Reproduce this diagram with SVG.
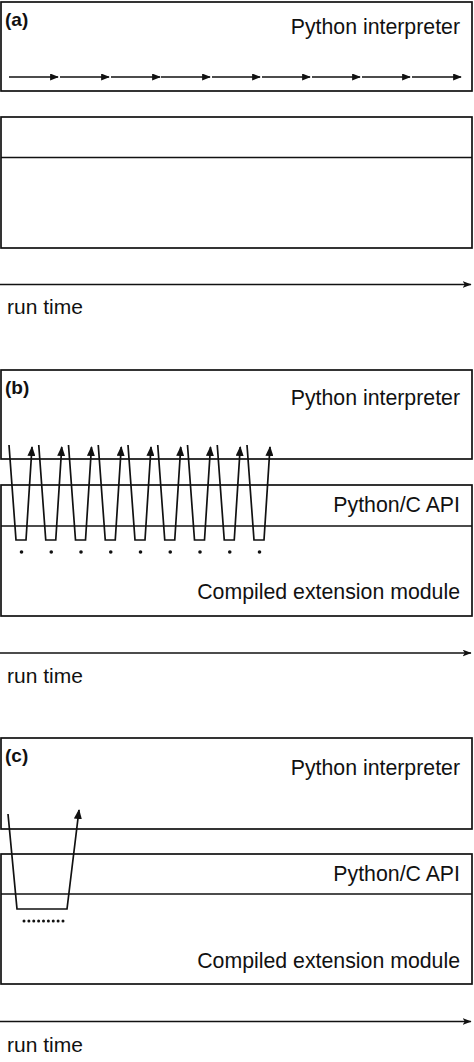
<svg xmlns="http://www.w3.org/2000/svg" width="474" height="1062" viewBox="0 0 474 1062">
<style>
.box{fill:#fff;stroke:#111;stroke-width:1.7}
.sep{stroke:#111;stroke-width:1.7}
.lbl{font-family:"Liberation Sans",Arial,sans-serif;font-size:21.3px;fill:#111;text-anchor:end}
.tag{font-family:"Liberation Sans",Arial,sans-serif;font-size:19px;font-weight:bold;fill:#111}
.rt{font-family:"Liberation Sans",Arial,sans-serif;font-size:21px;fill:#111}
.ar{fill:none;stroke:#111;stroke-width:1.6;marker-end:url(#ah)}
.tl{fill:none;stroke:#111;stroke-width:1.6;marker-end:url(#st)}
.zz{fill:none;stroke:#111;stroke-width:1.7;stroke-linejoin:miter;marker-end:url(#ah2)}
.dot{fill:#111}
</style>
<defs>
<marker id="ah" viewBox="0 0 10 8" refX="9" refY="4" markerWidth="10" markerHeight="7" orient="auto" markerUnits="userSpaceOnUse"><path d="M0,0 L10,4 L0,8 z" fill="#111"/></marker>
<marker id="ah2" viewBox="0 0 10 8" refX="9" refY="4" markerWidth="10" markerHeight="8" orient="auto" markerUnits="userSpaceOnUse"><path d="M0,0 L10,4 L0,8 z" fill="#111"/></marker>
<marker id="st" viewBox="0 0 8 6" refX="7.5" refY="3" markerWidth="9" markerHeight="7" orient="auto" markerUnits="userSpaceOnUse"><path d="M0,0 L8,3 L0,6 L2,3 z" fill="#111"/></marker>
</defs>

<!-- Panel (a) -->
<g id="a-interpreter">
<rect class="box" x="1" y="2" width="471" height="89"/>
<text class="tag" x="5" y="26">(a)</text>
<text class="lbl" x="460" y="34">Python interpreter</text>
</g>
<g id="a-lower">
<rect class="box" x="1" y="117" width="471" height="131"/>
<line class="sep" x1="1" y1="157.5" x2="472" y2="157.5"/>
</g>
<g id="a-runtime">
<text class="rt" x="7" y="314">run time</text>
</g>

<!-- Panel (b) -->
<g id="b-interpreter">
<rect class="box" x="1" y="370" width="471" height="89"/>
<text class="tag" x="5" y="394">(b)</text>
<text class="lbl" x="460" y="405">Python interpreter</text>
</g>
<g id="b-extension">
<rect class="box" x="1" y="485" width="471" height="131"/>
<line class="sep" x1="1" y1="526" x2="472" y2="526"/>
<text class="lbl" x="460" y="512">Python/C API</text>
<text class="lbl" x="460" y="599">Compiled extension module</text>
</g>
<g id="b-runtime">
<text class="rt" x="7" y="683">run time</text>
</g>

<!-- Panel (c) -->
<g id="c-interpreter">
<rect class="box" x="1" y="738" width="471" height="91"/>
<text class="tag" x="5" y="762">(c)</text>
<text class="lbl" x="460" y="775">Python interpreter</text>
</g>
<g id="c-extension">
<rect class="box" x="1" y="854" width="471" height="130"/>
<line class="sep" x1="1" y1="894" x2="472" y2="894"/>
<text class="lbl" x="460" y="881">Python/C API</text>
<text class="lbl" x="460" y="968">Compiled extension module</text>
</g>
<g id="c-runtime">
<text class="rt" x="7" y="1052">run time</text>
</g>

<g id="connectors">
<!-- (a) steps -->
<line class="ar" x1="9" y1="77" x2="58" y2="77"/>
<line class="ar" x1="60" y1="77" x2="109" y2="77"/>
<line class="ar" x1="111" y1="77" x2="160" y2="77"/>
<line class="ar" x1="161" y1="77" x2="210" y2="77"/>
<line class="ar" x1="212" y1="77" x2="260" y2="77"/>
<line class="ar" x1="262" y1="77" x2="310" y2="77"/>
<line class="ar" x1="312" y1="77" x2="360" y2="77"/>
<line class="ar" x1="362" y1="77" x2="410" y2="77"/>
<line class="ar" x1="412" y1="77" x2="461" y2="77"/>
<!-- time axes -->
<line class="tl" x1="0" y1="284.5" x2="471" y2="284.5"/>
<line class="tl" x1="0" y1="653" x2="471" y2="653"/>
<line class="tl" x1="0" y1="1021.5" x2="471" y2="1021.5"/>
<!-- (b) zigzags -->
<path class="zz" d="M9,445 L16,540 L26,540 L32,447"/>
<path class="zz" d="M38.75,445 L45.75,540 L55.75,540 L61.75,447"/>
<path class="zz" d="M68.5,445 L75.5,540 L85.5,540 L91.5,447"/>
<path class="zz" d="M98.25,445 L105.25,540 L115.25,540 L121.25,447"/>
<path class="zz" d="M128,445 L135,540 L145,540 L151,447"/>
<path class="zz" d="M157.75,445 L164.75,540 L174.75,540 L180.75,447"/>
<path class="zz" d="M187.5,445 L194.5,540 L204.5,540 L210.5,447"/>
<path class="zz" d="M217.25,445 L224.25,540 L234.25,540 L240.25,447"/>
<path class="zz" d="M247,445 L254,540 L264,540 L270,447"/>
<g class="dot">
<circle cx="21.5" cy="552" r="1.8"/><circle cx="51.25" cy="552" r="1.8"/><circle cx="81" cy="552" r="1.8"/>
<circle cx="110.75" cy="552" r="1.8"/><circle cx="140.5" cy="552" r="1.8"/><circle cx="170.25" cy="552" r="1.8"/>
<circle cx="200" cy="552" r="1.8"/><circle cx="229.75" cy="552" r="1.8"/><circle cx="259.5" cy="552" r="1.8"/>
</g>
<!-- (c) single call -->
<path class="zz" d="M8,814 L17,909 L67,909 L79,810"/>
<g class="dot">
<circle cx="24" cy="921" r="1.5"/><circle cx="28.9" cy="921" r="1.5"/><circle cx="33.75" cy="921" r="1.5"/>
<circle cx="38.6" cy="921" r="1.5"/><circle cx="43.5" cy="921" r="1.5"/><circle cx="48.4" cy="921" r="1.5"/>
<circle cx="53.25" cy="921" r="1.5"/><circle cx="58.1" cy="921" r="1.5"/><circle cx="63" cy="921" r="1.5"/>
</g>
</g>
</svg>
